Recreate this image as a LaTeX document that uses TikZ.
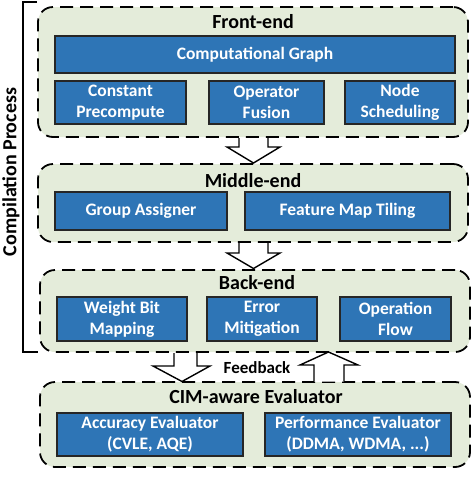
\documentclass[tikz,border=0pt]{standalone}
\usepackage{fontspec}
\setmainfont{Carlito}
\usetikzlibrary{positioning}
\definecolor{boxblue}{HTML}{2E75B6}
\definecolor{stagegreen}{HTML}{E4ECDA}
\begin{document}
\begin{tikzpicture}[x=1pt,y=-1pt,
  stagebox/.style={draw=black,line width=1.8pt,dash pattern=on 13pt off 7pt,fill=stagegreen,rounded corners=15pt},
  opbox/.style={draw=black!85,line width=1.3pt,fill=boxblue,text=white,font=\bfseries\fontsize{17.5}{21}\selectfont,align=center,inner sep=0pt},
  title/.style={font=\bfseries\fontsize{20}{24}\selectfont,inner sep=0pt},
  bigarrow/.style={draw=black,line width=1.4pt,fill=white,line join=miter}]
\useasboundingbox (0,0) rectangle (474,491);
% stages
\node[stagebox,minimum width=430,minimum height=130] (fe) at (253,72) {};
\node[stagebox,minimum width=430,minimum height=78] (me) at (253,203) {};
\node[stagebox,minimum width=430,minimum height=82] (be) at (255,311) {};
\node[stagebox,minimum width=430,minimum height=85] (ev) at (255,424.5) {};
% titles
\node[title] (fet) at (253,22) {Front-end};
\node[title] (met) at (253,181) {Middle-end};
\node[title] (bet) at (257,283) {Back-end};
\node[title] (evt) at (256,397) {CIM-aware Evaluator};
% front-end boxes
\node[opbox,minimum width=400,minimum height=37] (cg) at (255,54.5) {Computational Graph};
\node[opbox,minimum width=131,minimum height=43] (cp) at (120.5,102.5) {Constant\\Precompute};
\node[opbox,minimum width=115,minimum height=43] (of) at (266.5,102.5) {Operator\\Fusion};
\node[opbox,minimum width=110,minimum height=43] (ns) at (400,102.5) {Node\\Scheduling};
% middle-end boxes
\node[opbox,minimum width=172,minimum height=38] (ga) at (141,211) {Group Assigner};
\node[opbox,minimum width=205,minimum height=38] (fm) at (347.5,211) {Feature Map Tiling};
% back-end boxes
\node[opbox,minimum width=130,minimum height=44] (wb) at (122,319) {Weight Bit\\Mapping};
\node[opbox,minimum width=110,minimum height=44] (em) at (262,319) {Error\\Mitigation};
\node[opbox,minimum width=111,minimum height=44] (of2) at (395.5,319) {Operation\\Flow};
% evaluator boxes
\node[opbox,minimum width=186,minimum height=43] (ae) at (150,434.5) {Accuracy Evaluator\\(CVLE, AQE)};
\node[opbox,minimum width=186,minimum height=43] (pe) at (358,434.5) {Performance Evaluator\\(DDMA, WDMA, ...)};
% bracket and side label
\coordinate (bt) at (23,2);
\coordinate (bb) at (23,352);
\draw[line width=1.2pt] ([xshift=14]bt) -- (bt) -- (bb) -- ([xshift=15]bb);
\node[title,rotate=90] (cpl) at (11,172) {Compilation Process};
% stage arrows
\draw[bigarrow] (239,138) -- (239,147) -- (227,147) -- (253.5,163) -- (280,147) -- (268,147) -- (268,138);
\draw[bigarrow] (239,243) -- (239,253) -- (227,253) -- (253.5,268.5) -- (280,253) -- (268,253) -- (268,243);
% feedback arrows
\draw[bigarrow] (174,353) -- (174,366) -- (153,366) -- (182,381.5) -- (210,366) -- (197,366) -- (197,353);
\draw[bigarrow] (314,381.5) -- (314,365) -- (300,365) -- (328.5,352) -- (358,365) -- (344,365) -- (344,381.5);
\node[font=\bfseries\fontsize{17}{20}\selectfont,inner sep=0pt] (fb) at (257,368) {Feedback};
\end{tikzpicture}
\end{document}
